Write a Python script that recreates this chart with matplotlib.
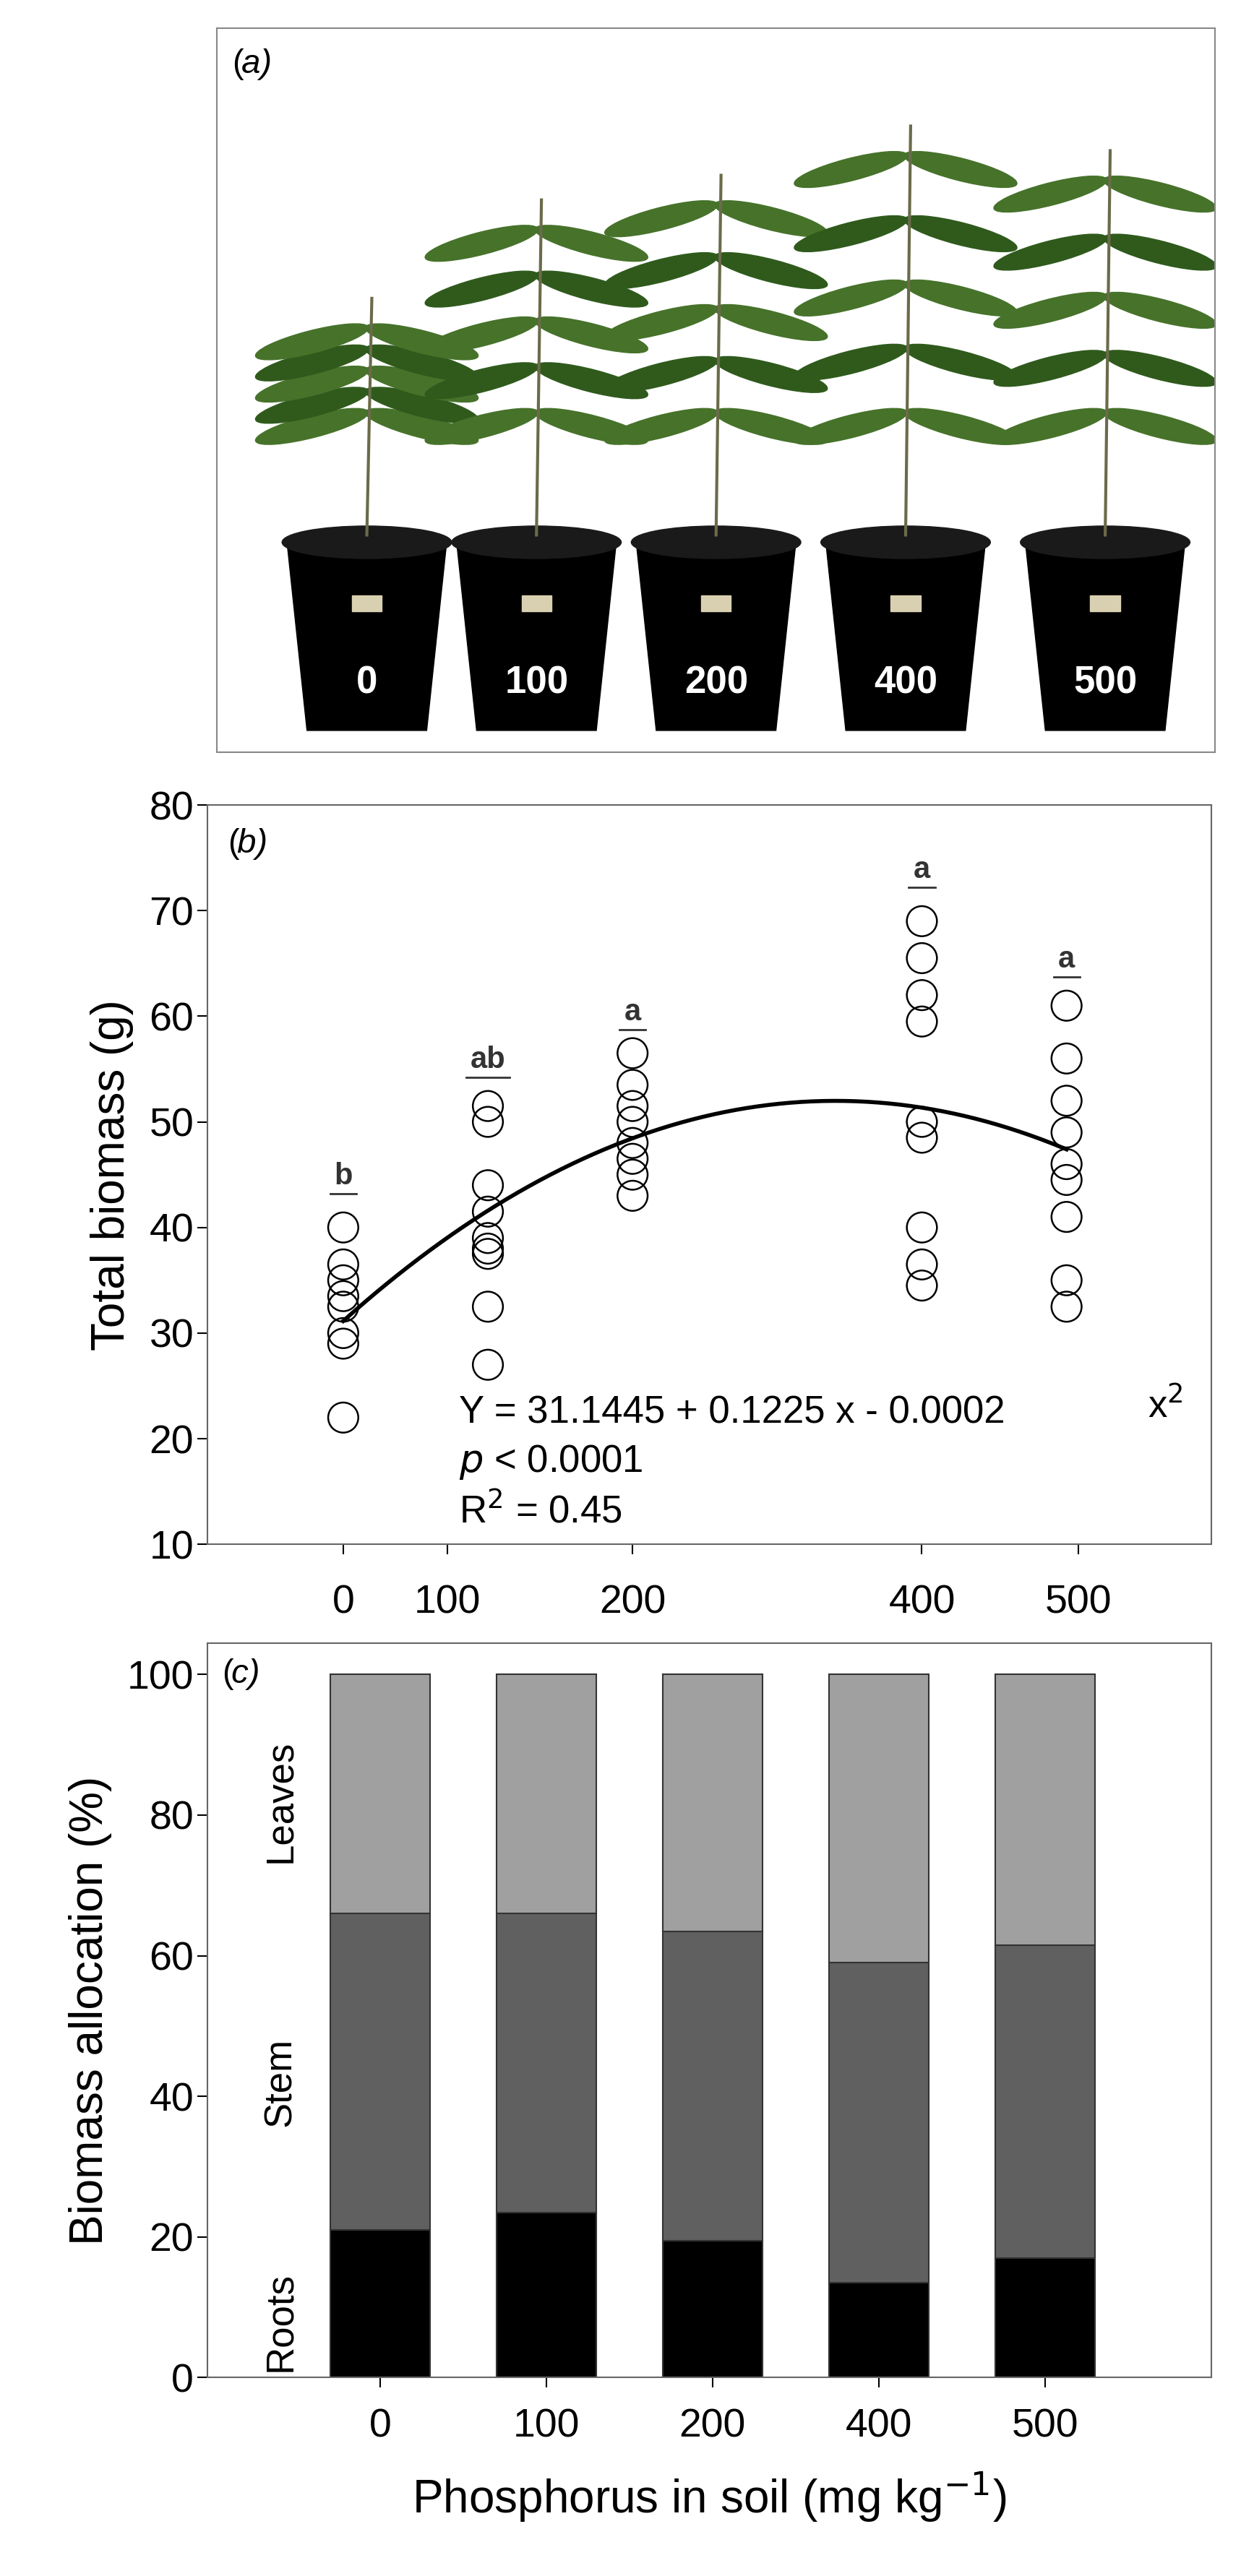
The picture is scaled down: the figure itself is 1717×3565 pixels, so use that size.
import numpy as np
import matplotlib
matplotlib.use("Agg")
import matplotlib.pyplot as plt
from matplotlib.patches import Polygon, Ellipse, Rectangle

plt.rcParams['font.family'] = ['Liberation Sans', 'DejaVu Sans']

# ---- data ----
pot_labels = ["0", "100", "200", "400", "500"]
plant_heights = [0.62, 0.78, 0.82, 0.9, 0.86]

x0 = [0]*8; y0 = [40, 36.5, 35, 33.5, 32.5, 30, 29, 22]
x100 = [100]*9; y100 = [51.5, 50, 44, 41.5, 39, 38, 37.5, 32.5, 27]
x200 = [200]*8; y200 = [56.5, 53.5, 51.5, 50, 48, 46.5, 45, 43]
x400 = [400]*9; y400 = [69, 65.5, 62, 59.5, 50, 48.5, 40, 36.5, 34.5]
x500 = [500]*9; y500 = [61, 56, 52, 49, 46, 44.5, 41, 35, 32.5]
letter_x = [0, 100, 200, 400, 500]
letter_y = [43.5, 54.5, 59, 72.5, 64]
letters = ["b", "ab", "a", "a", "a"]
coef = [31.1445, 0.1225, -0.00018]
b_tick_pos = [0, 72, 200, 400, 508]
b_tick_labels = ["0", "100", "200", "400", "500"]

categories = ["0", "100", "200", "400", "500"]
roots = [21, 23.5, 19.5, 13.5, 17]
stem = [45, 42.5, 44, 45.5, 44.5]
leaves = [34, 34, 36.5, 41, 38.5]

fig = plt.figure(figsize=(17.17, 35.65), dpi=100)
def ax_rect(l, t, r, b):
    return [l, 1-b, r-l, b-t]

# ---- panel a (photo placeholder) ----
axa = fig.add_axes(ax_rect(0.175, 0.011, 0.979, 0.292))
axa.set_xlim(0, 10); axa.set_ylim(0, 10)
axa.set_xticks([]); axa.set_yticks([])
for s in axa.spines.values():
    s.set_color('#888888'); s.set_linewidth(1.5)
axa.text(0.15, 9.5, "(", fontsize=34, va='center')
axa.text(0.15, 9.5, " a)", fontsize=34, va='center', style='italic')
centers = [1.5, 3.2, 5.0, 6.9, 8.9]
for cx, lab, h in zip(centers, pot_labels, plant_heights):
    top = 1.0 + 8.5*h
    axa.plot([cx, cx+0.05], [3.0, top], color='#6b6b4a', lw=3)
    for k, yy in enumerate(np.linspace(4.8, top-0.3, 5)):
        for sgn in (-1, 1):
            axa.add_patch(Ellipse((cx+sgn*0.55, yy-0.3), 1.2, 0.3,
                                  angle=-sgn*20, color='#2f5a1c' if k % 2 else '#46722a'))
    axa.add_patch(Polygon([[cx-0.8, 2.9], [cx+0.8, 2.9], [cx+0.6, 0.3], [cx-0.6, 0.3]],
                          closed=True, color='black'))
    axa.add_patch(Ellipse((cx, 2.9), 1.7, 0.45, color='#1a1a1a'))
    axa.add_patch(Rectangle((cx-0.15, 1.95), 0.3, 0.22, color='#d8d0b0'))
    axa.text(cx, 0.95, lab, color='white', fontsize=38, fontweight='bold', ha='center', va='center')

# ---- panel b ----
axb = fig.add_axes(ax_rect(0.167, 0.3125, 0.976, 0.5995))
for xs, ys in [(x0, y0), (x100, y100), (x200, y200), (x400, y400), (x500, y500)]:
    axb.scatter(xs, ys, s=900, facecolors='none', edgecolors='black', linewidths=1.8, zorder=3)
xx = np.linspace(0, 500, 200)
axb.plot(xx, coef[0] + coef[1]*xx + coef[2]*xx**2, color='black', lw=4)
for lx, ly, lt in zip(letter_x, letter_y, letters):
    axb.text(lx, ly, lt, fontsize=30, fontweight='bold', ha='center', va='bottom', color='#333333')
    axb.plot([lx-6*len(lt)-3, lx+6*len(lt)+3], [ly-0.3, ly-0.3], color='#333333', lw=2)
axb.set_xlim(-94, 600)
axb.set_ylim(10, 80)
axb.set_yticks(range(10, 81, 10))
axb.set_xticks(b_tick_pos)
axb.set_xticklabels(b_tick_labels)
axb.tick_params(axis='both', labelsize=40, length=10, width=1.5, direction='out')
axb.tick_params(axis='x', pad=30)
axb.set_ylabel("Total biomass (g)", fontsize=46, labelpad=15)
axb.text(-80, 75.5, "(", fontsize=34)
axb.text(-80, 75.5, " b)", fontsize=34, style='italic')
axb.text(80, 22.4, "Y = 31.1445 + 0.1225 x - 0.0002", fontsize=38, va='center')
axb.text(556, 23.0, "x$^2$", fontsize=38, va='center')
axb.text(80, 17.8, "$p$ < 0.0001", fontsize=38, va='center')
axb.text(80, 13.1, "R$^2$ = 0.45", fontsize=38, va='center')
for s in axb.spines.values():
    s.set_color('#666666'); s.set_linewidth(1.5)

# ---- panel c ----
axc = fig.add_axes(ax_rect(0.167, 0.638, 0.976, 0.923))
pos = np.arange(len(categories))
w = 0.6
axc.bar(pos, roots, w, color='black', edgecolor='#333333', lw=1.5)
axc.bar(pos, stem, w, bottom=roots, color='#606060', edgecolor='#333333', lw=1.5)
axc.bar(pos, leaves, w, bottom=np.add(roots, stem), color='#a0a0a0', edgecolor='#333333', lw=1.5)
axc.set_xlim(-1.04, 5.0)
axc.set_ylim(0, 104.4)
axc.set_xticks(pos)
axc.set_xticklabels(categories)
axc.set_yticks(range(0, 101, 20))
axc.tick_params(axis='both', labelsize=40, length=10, width=1.5, direction='out')
axc.tick_params(axis='x', pad=20)
axc.set_ylabel("Biomass allocation (%)", fontsize=46, labelpad=15)
axc.set_xlabel("Phosphorus in soil (mg kg$^{-1}$)", fontsize=46, labelpad=25)
axc.text(-0.95, 100, "(", fontsize=34, va='center')
axc.text(-0.95, 100, " c)", fontsize=34, va='center', style='italic')
for lab, yy in [("Leaves", 82), ("Stem", 42), ("Roots", 8)]:
    axc.text(-0.6, yy, lab, rotation=90, fontsize=38, ha='center', va='center')
for s in axc.spines.values():
    s.set_color('#666666'); s.set_linewidth(1.5)

fig.savefig("out.png", dpi=100)
